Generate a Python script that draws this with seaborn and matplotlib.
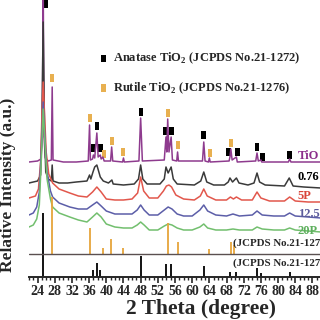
import matplotlib
matplotlib.use('Agg')
import numpy as np
import matplotlib.pyplot as plt
import seaborn as sns
from matplotlib.ticker import MultipleLocator

# XRD patterns (intensity in arbitrary stacked units)
tio2_x = [22.0, 24.0, 24.8, 25.1, 25.3, 25.5, 25.8, 26.5, 27.2, 27.4, 27.6, 30.0, 33.0, 35.8, 36.1, 36.3,
          36.8, 37.0, 37.3, 37.8, 38.1, 38.6, 38.8, 39.2, 39.5, 41.0, 41.25, 41.5, 43.8, 44.0, 44.2, 47.6,
          48.0, 48.4, 53.5, 53.9, 54.1, 54.3, 54.6, 55.1, 55.4, 56.4, 56.6, 56.8, 62.4, 62.7, 63.0, 63.8,
          64.0, 64.2, 68.6, 68.8, 69.0, 69.3, 70.3, 70.5, 74.8, 75.1, 75.4, 76.0, 76.2, 82.4, 82.7, 83.0, 90.0]
tio2_y = [115, 116, 118, 140, 300, 140, 119, 116, 117, 190, 117, 115, 115, 116, 152, 117,
          118, 122, 119, 144, 120, 122, 118, 120, 116, 116, 130, 116, 115, 119, 115, 116,
          159, 116, 117, 140, 125, 158, 125, 140, 117, 116, 125, 116, 116, 135, 116, 115,
          119, 115, 116, 120, 128, 117, 120, 115, 116, 124, 116, 117, 115, 115, 118, 115, 115]

p076_x = [22.0, 24.0, 24.7, 25.0, 25.3, 25.6, 25.9, 26.5, 27.2, 27.4, 27.6, 29.0, 31.0, 33.0, 35.5, 36.1,
          36.4, 36.9, 37.3, 37.8, 38.2, 38.6, 39.3, 40.5, 41.3, 41.6, 44.0, 46.5, 47.5, 48.0, 48.5, 49.5,
          52.5, 53.5, 53.9, 54.4, 55.1, 55.6, 56.5, 60.5, 62.0, 62.7, 63.4, 65.0, 67.5, 68.4, 68.8, 69.4,
          70.3, 70.9, 73.0, 74.4, 75.1, 75.7, 77.0, 81.5, 82.6, 83.5, 86.0, 90.0]
p076_y = [94, 96, 102, 150, 255, 150, 105, 98, 96, 112, 96, 94, 94, 95, 96, 102,
          98, 105, 110, 112, 106, 100, 96, 94, 97, 93, 92, 93, 98, 112, 98, 93,
          93, 98, 110, 104, 110, 98, 93, 92, 96, 105, 95, 92, 92, 95, 99, 95,
          99, 94, 92, 94, 104, 95, 92, 91, 99, 91, 90, 89]

p5_x = [22.0, 23.5, 24.2, 24.7, 25.0, 25.3, 25.6, 26.0, 26.6, 27.5, 29.0, 31.5, 33.5, 35.5, 36.8, 37.8,
        38.8, 40.0, 42.0, 44.0, 46.0, 47.3, 48.0, 48.7, 50.0, 52.0, 53.3, 54.0, 54.6, 55.2, 56.2, 58.0,
        60.5, 61.9, 62.7, 63.5, 65.5, 68.0, 68.9, 69.6, 70.3, 71.5, 74.0, 75.1, 76.0, 78.0, 81.5, 82.7,
        84.0, 87.0, 90.0]
p5_y = [79, 81, 88, 115, 160, 195, 165, 125, 103, 94, 88, 84, 81, 80, 85, 90,
        85, 78, 77, 77, 78, 84, 100, 86, 79, 79, 86, 91, 92, 90, 82, 78,
        77, 81, 88, 81, 77, 77, 80, 78, 80, 77, 77, 85, 79, 76, 76, 80,
        76, 75, 75]

broad_x = [22.0, 23.0, 23.8, 24.4, 24.9, 25.3, 25.7, 26.2, 27.0, 27.5, 29.0, 31.5, 33.5, 35.5, 36.8, 37.8,
           38.8, 40.0, 42.0, 44.0, 46.0, 47.2, 48.0, 48.8, 50.0, 52.0, 53.5, 54.4, 55.3, 56.5, 58.0, 60.0,
           61.8, 62.7, 63.6, 65.5, 68.0, 69.5, 71.0, 74.0, 75.1, 76.3, 79.0, 81.5, 82.7, 84.0, 87.0, 90.0]
p125_y = [62, 64, 70, 85, 130, 175, 140, 105, 86, 80, 74, 70, 68, 68, 72, 75,
          71, 66, 63, 63, 63, 67, 72, 67, 62, 62, 67, 70, 68, 63, 61, 61,
          67, 72, 66, 62, 61, 63, 61, 62, 66, 62, 61, 61, 64, 61, 60, 59]
p20_y = [50, 52, 58, 72, 120, 168, 135, 98, 78, 70, 64, 60, 57, 55, 60, 64,
         60, 53, 50, 49, 49, 52, 55, 52, 47, 47, 51, 53, 52, 49, 47, 47,
         50, 53, 49, 47, 47, 48, 47, 47, 50, 48, 47, 47, 49, 47, 46, 45]

# reference cards
anatase_pos = [25.3, 37.0, 37.8, 38.6, 48.0, 53.9, 55.1, 62.7, 68.8, 70.3, 75.0, 76.0, 82.7]
anatase_h = [64, 7, 14, 7, 21, 13, 13, 11, 5, 5, 9, 4, 5]
rutile_pos = [27.4, 36.1, 39.2, 41.2, 44.0, 54.3, 56.6, 64.0, 69.0, 69.8]
rutile_h = [57, 26, 6, 15, 6, 31, 12, 5, 12, 9]
rutile_base = 23

# peak markers above the TiO2 pattern
anatase_mx = [26.0, 37.0, 37.8, 38.7, 48.1, 53.8, 55.2, 62.6, 68.5, 70.6, 75.1, 76.4, 82.6]
anatase_my = [273, 129, 151, 129, 165, 146, 146, 142, 125, 125, 130, 120, 122]
rutile_mx = [27.4, 36.2, 39.5, 41.3, 43.9, 54.4, 56.7, 64.1, 69.0]
rutile_my = [199, 159, 123, 136, 125, 164, 132, 124, 134]

# sample names as far as they show before the right edge
samples = ['TiO', '0.76', '5P', '12.5', '20P']
sample_label_y = [121, 100, 81, 63, 45.5]
colors = ['#8E3B8E', '#3a3a3a', '#E2574C', '#5C5EA8', '#72BF6E']
label_colors = ['#8B2D8B', 'black', '#D9453A', '#5B5B9B', '#5DAF5D']
orange = '#E6A53C'

sns.set_style('ticks')
plt.rcParams['font.family'] = ['Liberation Serif', 'DejaVu Serif']
plt.rcParams['font.weight'] = 'bold'
plt.rcParams['mathtext.fontset'] = 'custom'
plt.rcParams['mathtext.rm'] = 'Liberation Serif:bold'
plt.rcParams['mathtext.bf'] = 'Liberation Serif:bold'

fig = plt.figure(figsize=(3.2, 3.2), dpi=100)
ax = fig.add_axes([29 / 320, 43 / 320, 292 / 320, 277 / 320])

curves = [(tio2_x, tio2_y), (p076_x, p076_y), (p5_x, p5_y), (broad_x, p125_y), (broad_x, p20_y)]
for (cx, cy), c in zip(curves, colors):
    sns.lineplot(x=cx, y=cy, ax=ax, color=c, lw=1.1, estimator=None)

# stick patterns
ax.vlines(anatase_pos, 0, anatase_h, color='black', lw=1.3)
ax.vlines(rutile_pos, rutile_base, np.array(rutile_h) + rutile_base, color=orange, lw=1.3)
ax.axhline(rutile_base, color='#5a5050', lw=1.0)

rect = [(-0.6, -1), (0.6, -1), (0.6, 1), (-0.6, 1)]
sns.scatterplot(x=anatase_mx, y=anatase_my, ax=ax, marker=rect, s=30, color='black',
                edgecolor='none', label='Anatase TiO$_\\mathbf{2}$ (JCPDS No.21-1272)')
sns.scatterplot(x=rutile_mx, y=rutile_my, ax=ax, marker=rect, s=30, color='#E8B050',
                edgecolor='none', label='Rutile TiO$_\\mathbf{2}$ (JCPDS No.21-1276)')
ax.legend(loc='upper left', bbox_to_anchor=(99 / 320, 1 - 51 / 320), bbox_transform=fig.transFigure,
          frameon=False, borderpad=0, borderaxespad=0, handlelength=0.7, handletextpad=0.45,
          labelspacing=1.15, prop={'weight': 'bold', 'size': 9})

for name, yl, c in zip(samples, sample_label_y, label_colors):
    ax.text(84.6, yl, name, color=c, fontsize=9, fontweight='bold',
            ha='left', va='center', clip_on=False)
ax.text(69.4, 33.5, '(JCPDS No.21-127', fontsize=7.8, fontweight='bold', ha='left', va='center', clip_on=False)
ax.text(69.4, 13.5, '(JCPDS No.21-127', fontsize=7.8, fontweight='bold', ha='left', va='center', clip_on=False)

ax.set_xlim(22, 90)
ax.set_ylim(0, 277)
ax.xaxis.set_major_locator(MultipleLocator(4))
ax.xaxis.set_minor_locator(MultipleLocator(1))
ax.set_yticks([])
sns.despine(ax=ax, left=True, top=True, right=True)
ax.spines['bottom'].set_linewidth(1.4)
ax.tick_params(axis='x', which='major', direction='out', length=4.5, width=1.2, pad=1.2, labelsize=10)
ax.tick_params(axis='x', which='minor', direction='out', length=2.2, width=1.0)
for lab in ax.get_xticklabels():
    lab.set_fontweight('bold')

ax.set_xlabel('2 Theta (degree)', fontsize=15.5, fontweight='bold')
ax.xaxis.set_label_coords((201 - 29) / 292, -(299 - 277) / 277)
ax.set_ylabel('')
fig.text(8 / 320, 1 - 185 / 320, 'Relative Intensity (a.u.)', rotation=90, fontsize=12.5,
         fontweight='bold', ha='center', va='center')

fig.savefig('out.png', dpi=100)
